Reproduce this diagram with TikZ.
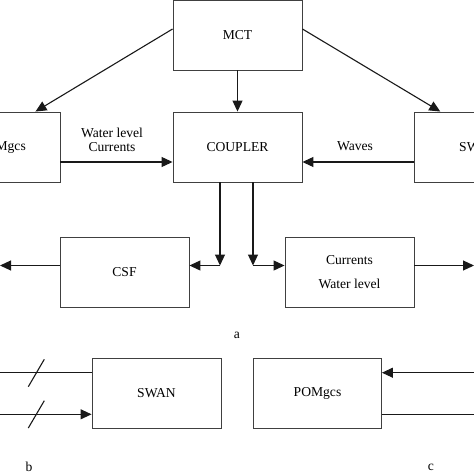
\documentclass[tikz,border=0pt]{standalone}
\usepackage{fontspec}
\setmainfont{Liberation Serif}
\usetikzlibrary{arrows.meta,positioning}
\begin{document}
\begin{tikzpicture}[x=1pt,y=-1pt,
  box/.style={draw=black!75,line width=0.9pt,minimum width=129pt,minimum height=70pt,inner sep=0pt,font=\fontsize{13.6}{15}\selectfont},
  lbl/.style={font=\fontsize{13.6}{14}\selectfont,inner sep=0pt},
  conn/.style={line width=1.1pt,black!90},
  arr/.style={conn,-{Triangle[length=11pt,width=10pt]}}]
\useasboundingbox (0,0) rectangle (474,474);
\clip (0,0) rectangle (474,474);
\node[box] (mct) at (237.5,35) {MCT};
\node[box] (coupler) at (237.5,147) {COUPLER};
\node[box,minimum width=116pt] (pomL) at (2,147) {POMgcs};
\node[box] (swanR) at (478.5,147) {SWAN};
\node[box] (csf) at (124.5,272) {CSF};
\node[box,align=center] (cw) at (349.5,272) {Currents\\[9pt]Water level};
\node[box] (swanB) at (156.5,393.5) {SWAN};
\node[box,minimum width=128pt] (pomB) at (317.5,393.5) {POMgcs};
% top connectors
\draw[arr] ([yshift=6pt]mct.west) -- ([xshift=-25pt]pomL.north east);
\draw[arr] ([yshift=6pt]mct.east) -- ([xshift=26.7pt]swanR.north west);
\draw[arr] (mct.south) -- (coupler.north);
\draw[arr] ([yshift=-15pt]pomL.east) -- ([yshift=-15pt]coupler.west);
\draw[arr] ([yshift=-15pt]swanR.west) -- ([yshift=-15pt]coupler.east);
\node[lbl,align=center] (wl) at (112,140) {Water level\\Currents};
\node[lbl] (wv) at (355,146) {Waves};
% coupler down
\coordinate (c1) at ([xshift=-17.5pt]coupler.south);
\coordinate (e1) at ([yshift=6.5pt]csf.east);
\coordinate (k1) at (c1 |- e1);
\coordinate (c2) at ([xshift=15.5pt]coupler.south);
\coordinate (e2) at ([yshift=6.5pt]cw.west);
\coordinate (k2) at (c2 |- e2);
\draw[arr] (c1) -- (k1);
\draw[arr] (k1) -- (e1);
\draw[arr] (c2) -- (k2);
\draw[arr] (k2) -- (e2);
\coordinate (oL) at (0,265.5);
\coordinate (oR) at (474,265.5);
\draw[arr] ([yshift=6.5pt]csf.west) -- (oL);
\draw[arr] ([yshift=6.5pt]cw.east) -- (oR);
\node[lbl] (la) at (237,335) {a};
% bottom
\coordinate (b1) at (0,372.7);
\coordinate (b2) at (0,414.3);
\draw[conn] (b1) -- (swanB.west |- b1);
\draw[arr] (b2) -- (swanB.west |- b2);
\draw[conn] (28.3,386.7) -- (44.3,359.3);
\draw[conn] (28.3,428) -- (44.3,400.7);
\coordinate (r1) at (474,372.7);
\coordinate (r2) at (474,414.3);
\draw[arr] (r1) -- (pomB.east |- r1);
\draw[conn] (pomB.east |- r2) -- (r2);
\node[lbl] (lb) at (29,467) {b};
\node[lbl] (lc) at (431,467) {c};
\end{tikzpicture}
\end{document}
